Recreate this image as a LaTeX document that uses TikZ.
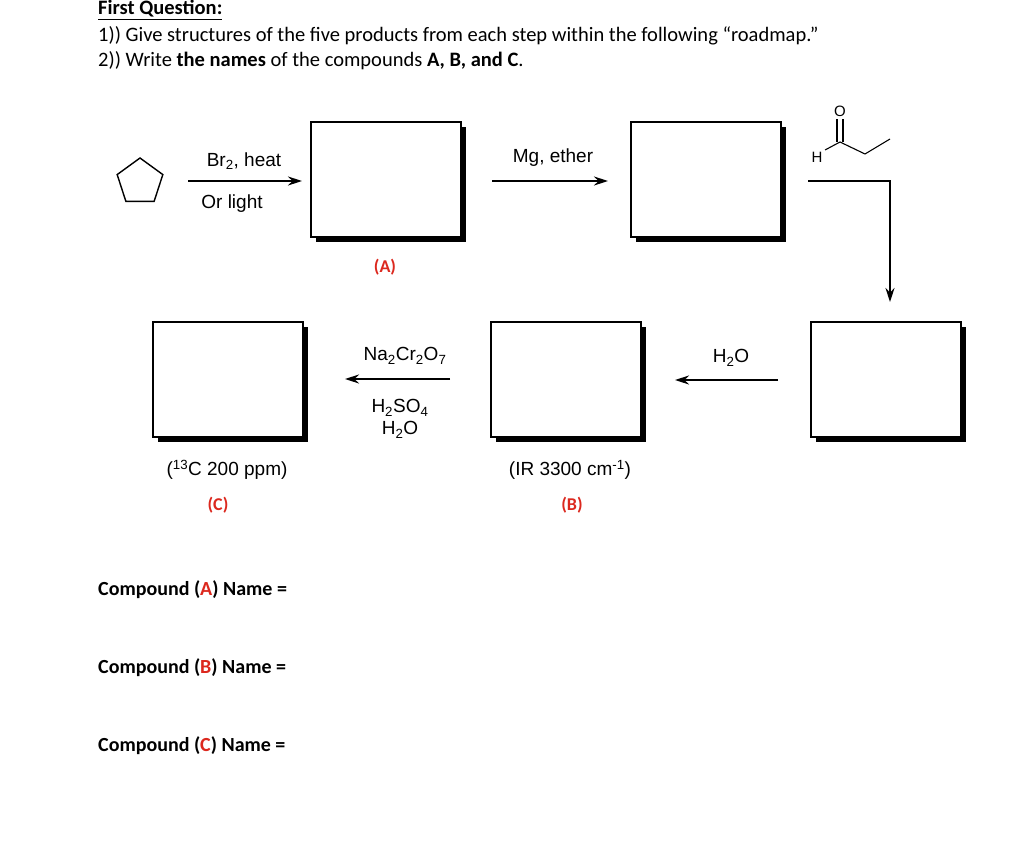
\documentclass[tikz,border=0pt]{standalone}
\usepackage{fontspec}
\setmainfont{Carlito}
\newfontfamily\arialf{Liberation Sans}
\usetikzlibrary{arrows.meta,shapes.geometric}
\definecolor{redC}{RGB}{220,40,30}
\begin{document}
\begin{tikzpicture}[x=1pt,y=-1pt,
  prodbox/.style={draw,line width=2pt,fill=white,minimum width=150pt,minimum height=115pt,anchor=north west,inner sep=0pt},
  shadowbox/.style={fill=black,minimum width=150pt,minimum height=115pt,anchor=north west,inner sep=0pt},
  rxn/.style={line width=1.6pt,-{Stealth[length=14pt,width=9pt]}},
  lab/.style={font=\arialf\fontsize{19}{21}\selectfont,inner sep=1pt},
  hdr/.style={font=\fontsize{20.5}{22}\selectfont,anchor=west,inner sep=0pt},
  tag/.style={font=\bfseries\fontsize{18}{20}\selectfont,text=redC,inner sep=1pt}]
\useasboundingbox (0,0) rectangle (1028,862);
\fill[white] (0,0) rectangle (1028,862);
% header
\node[hdr] (t0) at (98,10) {\textbf{\underline{First Question:}}};
\node[hdr] (t1) at (98,36) {1)) Give structures of the five products from each step within the following “roadmap.”};
\node[hdr] (t2) at (98,61) {2)) Write \textbf{the names} of the compounds \textbf{A, B, and C}.};
% boxes
\foreach \n/\x/\y in {b1/310/121,b2/630/121,b3/152/321,b4/490/321,b5/810/321}{
  \node[shadowbox] at (\x+6,\y+6) {};
  \node[prodbox] (\n) at (\x,\y) {};
}
% cyclopentane
\node[draw,line width=1.4pt,regular polygon,regular polygon sides=5,minimum size=48pt,inner sep=0pt] (cp) at (140,182) {};
% arrow 1
\coordinate (a1s) at (188,181); \coordinate (a1e) at (302,181);
\draw[rxn] (a1s) -- (a1e);
\node[lab] (r1) at (244,161) {Br\textsubscript{2}, heat};
\node[lab] (r2) at (232,204) {Or light};
% arrow 2
\coordinate (a2s) at (492,181); \coordinate (a2e) at (608,181);
\draw[rxn] (a2s) -- (a2e);
\node[lab] (r3) at (553,158) {Mg, ether};
% propanal
\node[font=\arialf\fontsize{15}{17}\selectfont,inner sep=0pt] (hh) at (817,157) {H};
\node[font=\arialf\fontsize{15}{17}\selectfont,inner sep=0pt] (oo) at (840,111) {O};
\coordinate (cc) at (840,142);
\draw[line width=1.1pt] (825,150) -- (cc) -- (865,154) -- (890,139);
\draw[line width=1.1pt] (837,142) -- (837,119) (843,142) -- (843,119);
% L arrow
\coordinate (l1) at (808,181); \coordinate (l2) at (890,181); \coordinate (l3) at (890,302);
\draw[rxn] (l1) -- (l2) -- (l3);
\node[tag] (tA) at (385,267) {(A)};
% arrow 3
\coordinate (a3s) at (450,379); \coordinate (a3e) at (345,379);
\draw[rxn] (a3s) -- (a3e);
\node[lab] (r4) at (405,356) {Na\textsubscript{2}Cr\textsubscript{2}O\textsubscript{7}};
\node[lab] (r5) at (400,408) {H\textsubscript{2}SO\textsubscript{4}};
\node[lab] (r6) at (400,430) {H\textsubscript{2}O};
% arrow 4
\coordinate (a4s) at (778,380); \coordinate (a4e) at (675,380);
\draw[rxn] (a4s) -- (a4e);
\node[lab] (r7) at (731,358) {H\textsubscript{2}O};
\node[lab] (nC) at (227,470) {(\textsuperscript{13}C 200 ppm)};
\node[tag] (tC) at (218,505) {(C)};
\node[lab] (nB) at (570,470) {(IR 3300 cm\textsuperscript{-1})};
\node[tag] (tB) at (572,505) {(B)};
% names
\node[hdr,font=\bfseries\fontsize{20}{22}\selectfont] (cA) at (98,590) {Compound (\textcolor{redC}{A}) Name =};
\node[hdr,font=\bfseries\fontsize{20}{22}\selectfont] (cB) at (98,668) {Compound (\textcolor{redC}{B}) Name =};
\node[hdr,font=\bfseries\fontsize{20}{22}\selectfont] (cC) at (98,746) {Compound (\textcolor{redC}{C}) Name =};
\end{tikzpicture}
\end{document}
